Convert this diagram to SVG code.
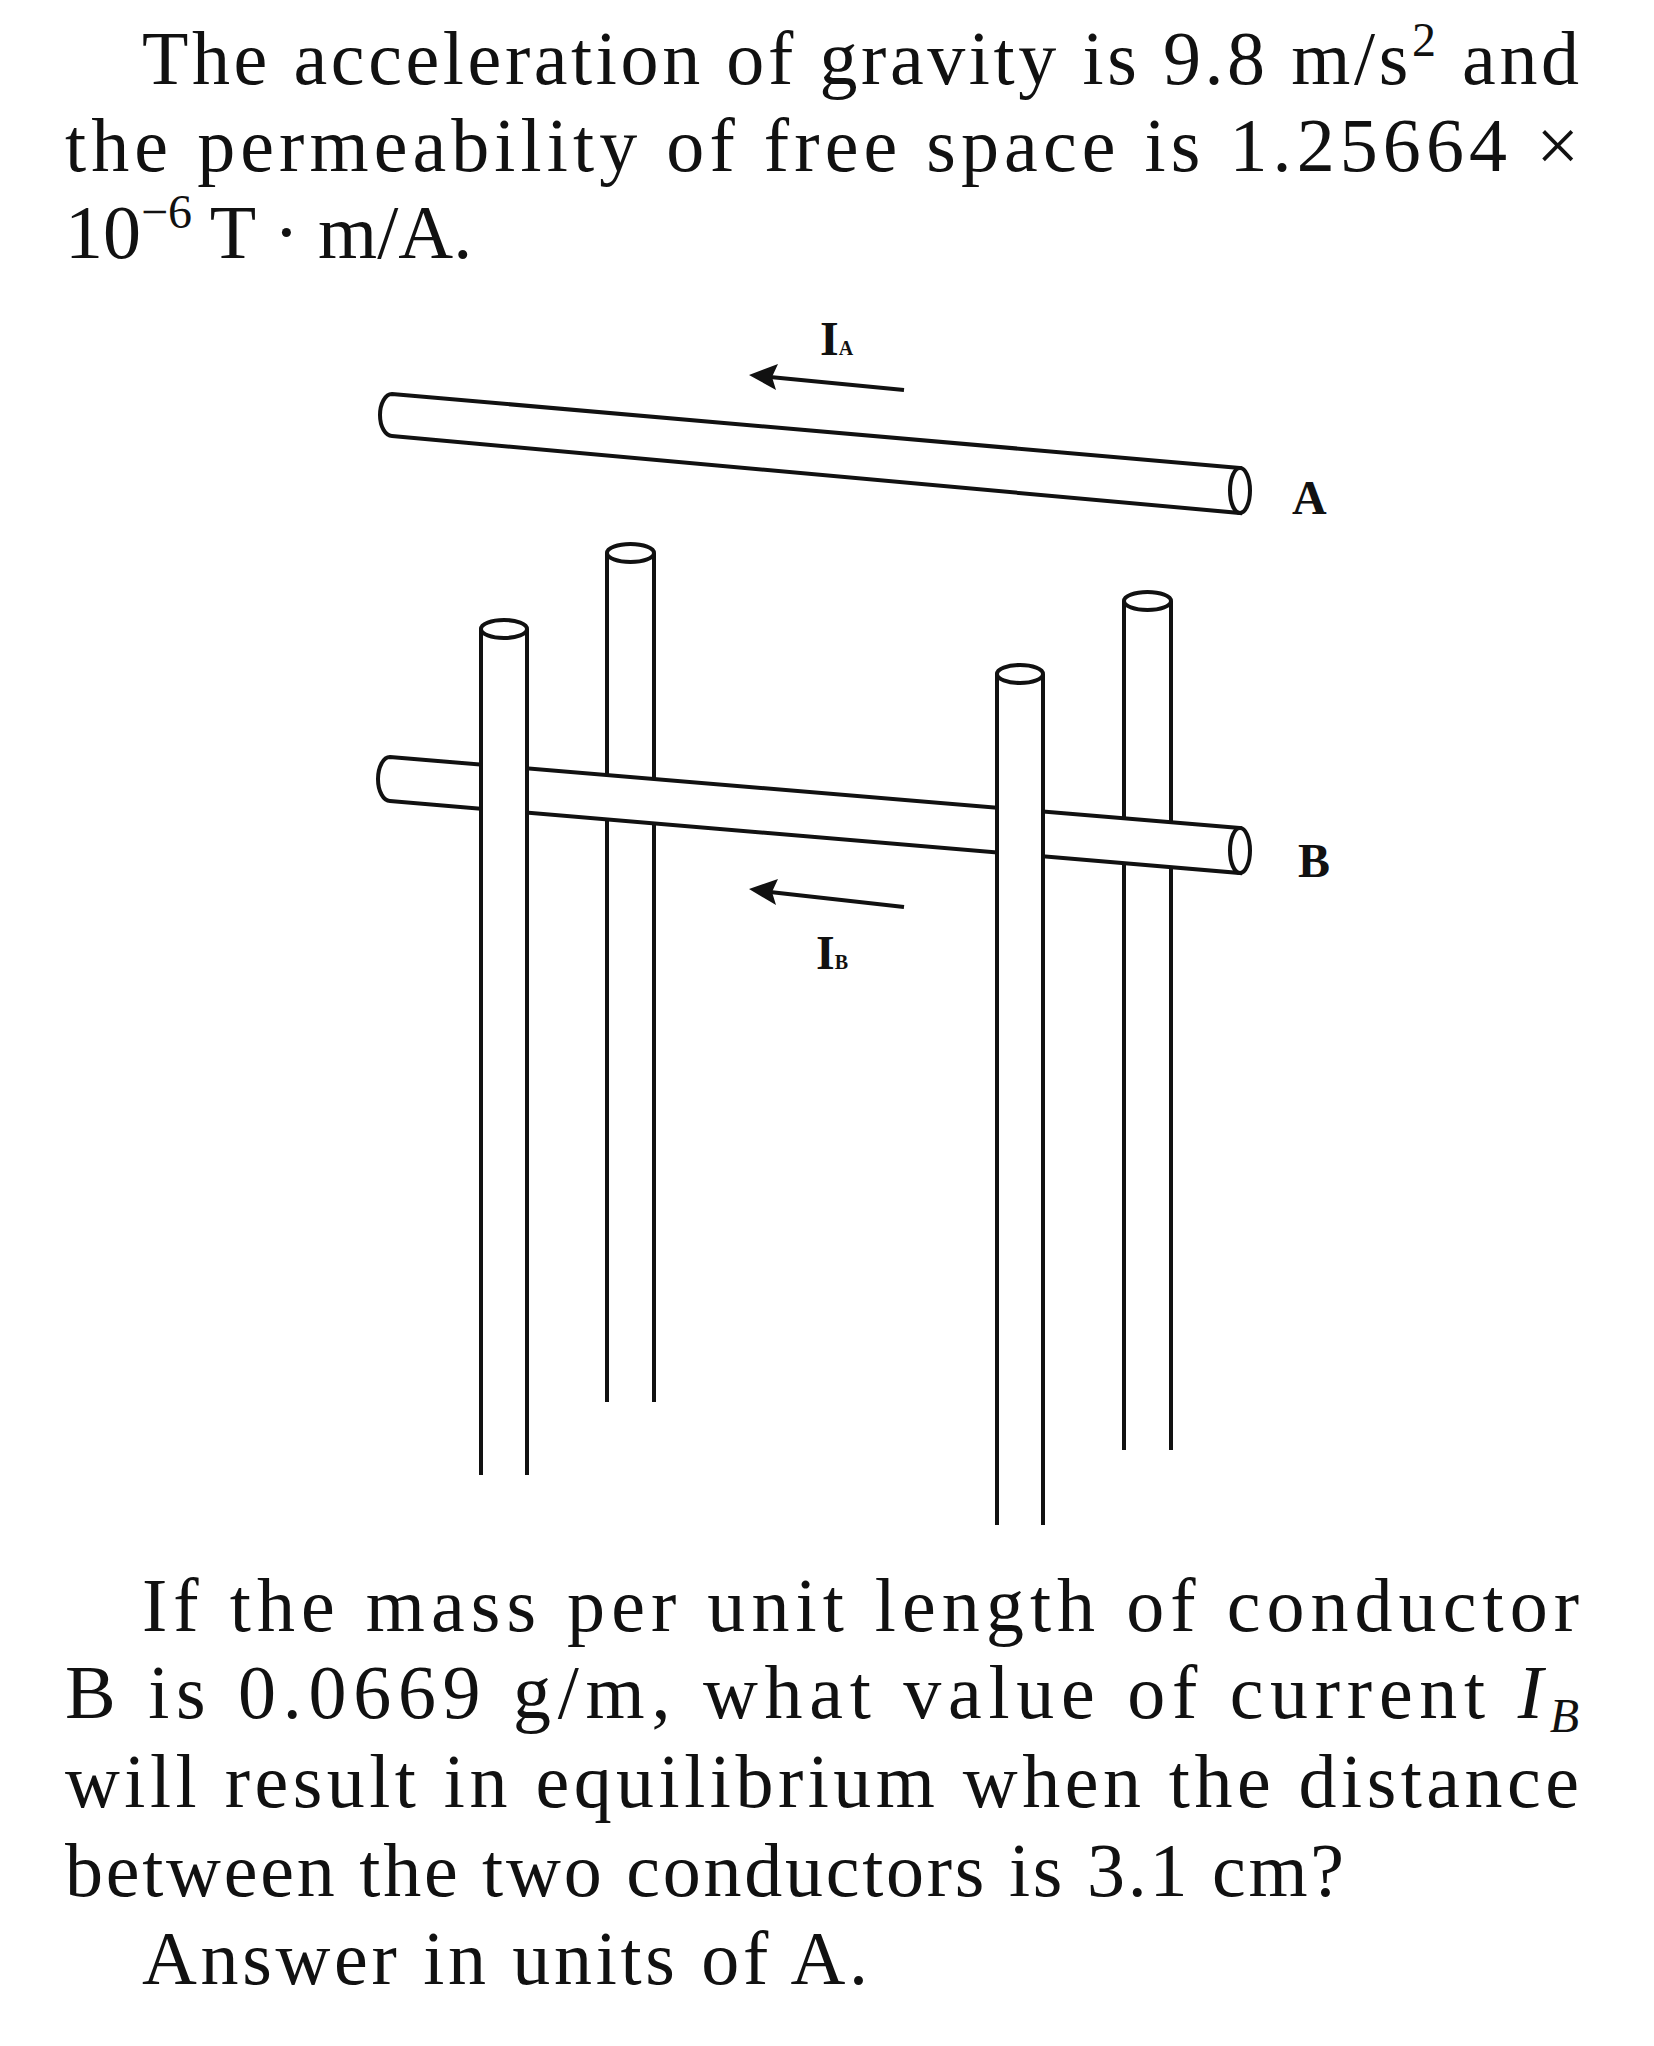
<svg xmlns="http://www.w3.org/2000/svg" width="1654" height="2046" viewBox="0 0 1654 2046">
<style>
.t{font-family:"Liberation Serif",serif;font-size:76px;fill:#111}
.l{font-family:"Liberation Serif",serif;font-size:48px;fill:#111}
.s{font-family:"Liberation Serif",serif;fill:#111;font-weight:bold}
.o{fill:#fff;stroke:#111;stroke-width:4}
.f{fill:#fff}
.k{fill:none;stroke:#111;stroke-width:4}
.h{fill:#111}
</style>
<rect width="1654" height="2046" fill="#fff"/>
<g id="text-top">
<text class="t" x="142" y="84" textLength="1437" lengthAdjust="spacing">The acceleration of gravity is 9.8 m/s<tspan dy="-28" font-size="48">2</tspan><tspan dy="28"> and</tspan></text>
<text class="t" x="65" y="171" textLength="1514" lengthAdjust="spacing">the permeability of free space is 1.25664 ×</text>
<text class="t" x="65" y="258">10<tspan dy="-30" font-size="48">−6</tspan><tspan dy="30"> T · m/A.</tspan></text>
</g>
<g id="post2"><rect class="f" x="607" y="553" width="47" height="849"/><path class="k" d="M607 553V1402M654 553V1402"/><ellipse class="o" cx="630.5" cy="553" rx="23.5" ry="9"/></g>
<g id="post4"><rect class="f" x="1124" y="601" width="47" height="849"/><path class="k" d="M1124 601V1450M1171 601V1450"/><ellipse class="o" cx="1147.5" cy="601" rx="23.5" ry="9"/></g>
<g id="rodA">
<path class="o" d="M1240 468 L392 394 A12 21 0 0 0 392 436 L1240 513Z"/>
<ellipse class="o" cx="1240" cy="490.5" rx="10" ry="22.5"/>
</g>
<g id="rodB">
<path class="o" d="M1240 828 L390 757 A12 22 0 0 0 390 801 L1240 873Z"/>
<ellipse class="o" cx="1240" cy="850.5" rx="10" ry="22.5"/>
</g>
<g id="post1"><rect class="f" x="481" y="629" width="46" height="846"/><path class="k" d="M481 629V1475M527 629V1475"/><ellipse class="o" cx="504" cy="629" rx="23" ry="9"/></g>
<g id="post3"><rect class="f" x="997" y="674" width="46" height="851"/><path class="k" d="M997 674V1525M1043 674V1525"/><ellipse class="o" cx="1020" cy="674" rx="23" ry="9"/></g>
<g id="connectors">
<path class="k" d="M904 390 L770 377"/>
<path class="h" d="M749 375 L778 364 L772 377 L776 390Z"/>
<path class="k" d="M904 907 L770 892"/>
<path class="h" d="M749 889 L778 879 L772 892 L776 905Z"/>
</g>
<g id="labels">
<text class="l" x="1292" y="514" font-weight="bold">A</text>
<text class="l" x="1298" y="877" font-weight="bold">B</text>
<text class="l" x="820" y="355" font-weight="bold">I<tspan class="s" font-size="20">A</tspan></text>
<text class="l" x="816" y="969" font-weight="bold">I<tspan class="s" font-size="20">B</tspan></text>
</g>
<g id="text-bottom">
<text class="t" x="142" y="1631" textLength="1437" lengthAdjust="spacing">If the mass per unit length of conductor</text>
<text class="t" x="65" y="1718" textLength="1514" lengthAdjust="spacing">B is 0.0669 g/m, what value of current <tspan font-style="italic">I</tspan><tspan font-style="italic" font-size="48" dy="14">B</tspan></text>
<text class="t" x="65" y="1807" textLength="1514" lengthAdjust="spacing">will result in equilibrium when the distance</text>
<text class="t" x="65" y="1896" textLength="1279" lengthAdjust="spacing">between the two conductors is 3.1 cm?</text>
<text class="t" x="142" y="1984" textLength="726" lengthAdjust="spacing">Answer in units of  A.</text>
</g>
</svg>
